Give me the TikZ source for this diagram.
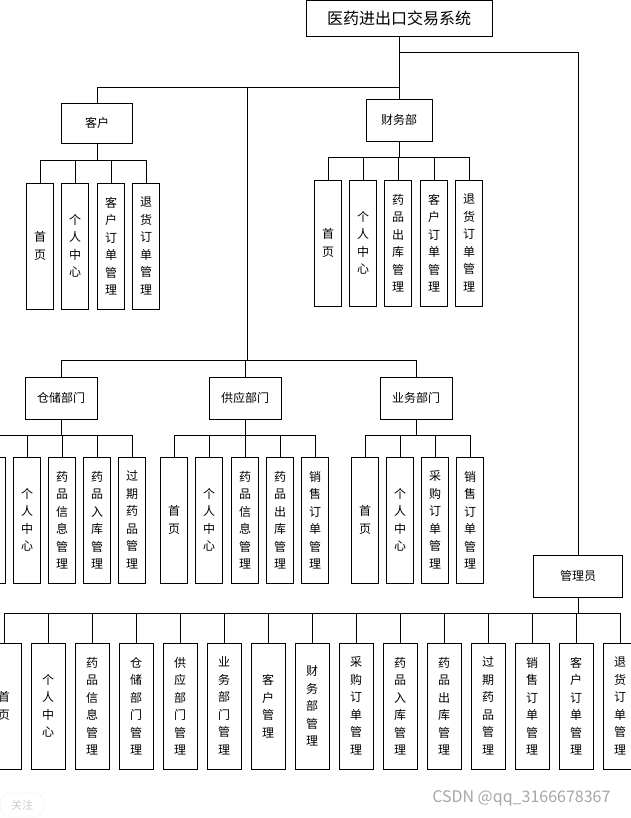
\documentclass[tikz,border=0pt]{standalone}
\usepackage{fontspec}
\setmainfont{Noto Sans CJK SC}
\begin{document}
\begin{tikzpicture}[x=1pt,y=-1pt,
  hbox/.style={draw,inner sep=0pt,font=\fontsize{12}{14}\selectfont},
  vbox/.style={draw,inner sep=0pt,minimum width=27pt,minimum height=126pt,align=center,font=\fontsize{12}{17.5}\selectfont},
  wbox/.style={draw,inner sep=0pt,minimum width=34pt,minimum height=126pt,align=center,font=\fontsize{12}{17.5}\selectfont},
  ln/.style={line width=0.8pt}]
\useasboundingbox (0,0) rectangle (630,818);
\node[hbox,minimum width=186pt,minimum height=36pt,font=\fontsize{16}{18}\selectfont] (top) at (399,18) {医药进出口交易系统};
\node[hbox,minimum width=71pt,minimum height=40pt] (kh) at (97,123) {客户};
\node[hbox,minimum width=66pt,minimum height=42pt] (cw) at (399,120) {财务部};
\node[hbox,minimum width=72pt,minimum height=42pt] (cc) at (61,398) {仓储部门};
\node[hbox,minimum width=72pt,minimum height=42pt] (gy) at (245,398) {供应部门};
\node[hbox,minimum width=72pt,minimum height=42pt] (yw) at (416,398) {业务部门};
\node[hbox,minimum width=89pt,minimum height=42pt] (gl) at (578,576) {管理员};
% top connectors
\coordinate (j1) at (399,52);
\coordinate (j2) at (399,87);
\coordinate (j3) at (247,87);
\coordinate (j4) at (247,360);
\draw[ln] (top.south) -- (cw.north);
\draw[ln] (j1) -| (gl.north);
\draw[ln] (j2) -| (kh.north);
\draw[ln] (j3) -- (j4);
\draw[ln] (j4 -| cc.north) -- (j4 -| yw.north);
\foreach \d in {cc,gy,yw} \draw[ln] (j4 -| \d.north) -- (\d.north);
% 客户 children
\foreach \n/\x/\t in {k1/40/首\\页,k2/75/个\\人\\中\\心,k3/111/客\\户\\订\\单\\管\\理,k4/146/退\\货\\订\\单\\管\\理}
  \node[vbox] (\n) at (\x,246) {\t};
\coordinate (bk) at (97,160);
\draw[ln] (kh.south) -- (bk);
\draw[ln] (bk -| k1.north) -- (bk -| k4.north);
\foreach \n in {k1,k2,k3,k4} \draw[ln] (bk -| \n.north) -- (\n.north);
% 财务部 children
\foreach \n/\x/\t in {c1/328/首\\页,c2/363/个\\人\\中\\心,c3/398/药\\品\\出\\库\\管\\理,c4/434/客\\户\\订\\单\\管\\理,c5/469/退\\货\\订\\单\\管\\理}
  \node[vbox] (\n) at (\x,243) {\t};
\coordinate (bc) at (399,157);
\draw[ln] (cw.south) -- (bc);
\draw[ln] (bc -| c1.north) -- (bc -| c5.north);
\foreach \n in {c1,c2,c3,c4,c5} \draw[ln] (bc -| \n.north) -- (\n.north);
% 仓储 children
\foreach \n/\x/\t in {s0/-8/首\\页,s1/27/个\\人\\中\\心,s2/62/药\\品\\信\\息\\管\\理,s3/97/药\\品\\入\\库\\管\\理,s4/132/过\\期\\药\\品\\管\\理}
  \node[vbox] (\n) at (\x,520) {\t};
\coordinate (bs) at (61,435);
\draw[ln] (cc.south) -- (bs);
\draw[ln] (bs -| s0.north) -- (bs -| s4.north);
\foreach \n in {s0,s1,s2,s3,s4} \draw[ln] (bs -| \n.north) -- (\n.north);
% 供应 children
\foreach \n/\x/\t in {g1/174/首\\页,g2/209/个\\人\\中\\心,g3/245/药\\品\\信\\息\\管\\理,g4/280/药\\品\\出\\库\\管\\理,g5/315/销\\售\\订\\单\\管\\理}
  \node[vbox] (\n) at (\x,520) {\t};
\coordinate (bg) at (245,435);
\draw[ln] (gy.south) -- (bg);
\draw[ln] (bg -| g1.north) -- (bg -| g5.north);
\foreach \n in {g1,g2,g3,g4,g5} \draw[ln] (bg -| \n.north) -- (\n.north);
% 业务 children
\foreach \n/\x/\t in {y1/365/首\\页,y2/400/个\\人\\中\\心,y3/435/采\\购\\订\\单\\管\\理,y4/470/销\\售\\订\\单\\管\\理}
  \node[vbox] (\n) at (\x,520) {\t};
\coordinate (by) at (416,435);
\draw[ln] (yw.south) -- (by);
\draw[ln] (by -| y1.north) -- (by -| y4.north);
\foreach \n in {y1,y2,y3,y4} \draw[ln] (by -| \n.north) -- (\n.north);
% 管理员 children
\foreach \n/\x/\t in {a1/4/首\\页,a2/48/个\\人\\中\\心,a3/92/药\\品\\信\\息\\管\\理,a4/136/仓\\储\\部\\门\\管\\理,a5/180/供\\应\\部\\门\\管\\理,a6/224/业\\务\\部\\门\\管\\理,a7/268/客\\户\\管\\理,a8/312/财\\务\\部\\管\\理,a9/356/采\\购\\订\\单\\管\\理,a10/400/药\\品\\入\\库\\管\\理,a11/444/药\\品\\出\\库\\管\\理,a12/488/过\\期\\药\\品\\管\\理,a13/532/销\\售\\订\\单\\管\\理,a14/576/客\\户\\订\\单\\管\\理,a15/620/退\\货\\订\\单\\管\\理}
  \node[wbox] (\n) at (\x,706) {\t};
\coordinate (ba) at (578,613);
\draw[ln] (gl.south) -- (ba);
\draw[ln] (ba -| a1.north) -- (ba -| a15.north);
\foreach \n in {a1,a2,a3,a4,a5,a6,a7,a8,a9,a10,a11,a12,a13,a14,a15} \draw[ln] (ba -| \n.north) -- (\n.north);
% watermark
\node[text=black!35,font=\fontsize{16}{18}\selectfont,anchor=east] (wm) at (614,798) {CSDN @qq\_3166678367};
\node[text=black!20,font=\fontsize{11}{13}\selectfont,draw=black!8,rounded corners=10pt,minimum height=24pt,minimum width=44pt] (gz) at (22,805) {关注};
\end{tikzpicture}
\end{document}
